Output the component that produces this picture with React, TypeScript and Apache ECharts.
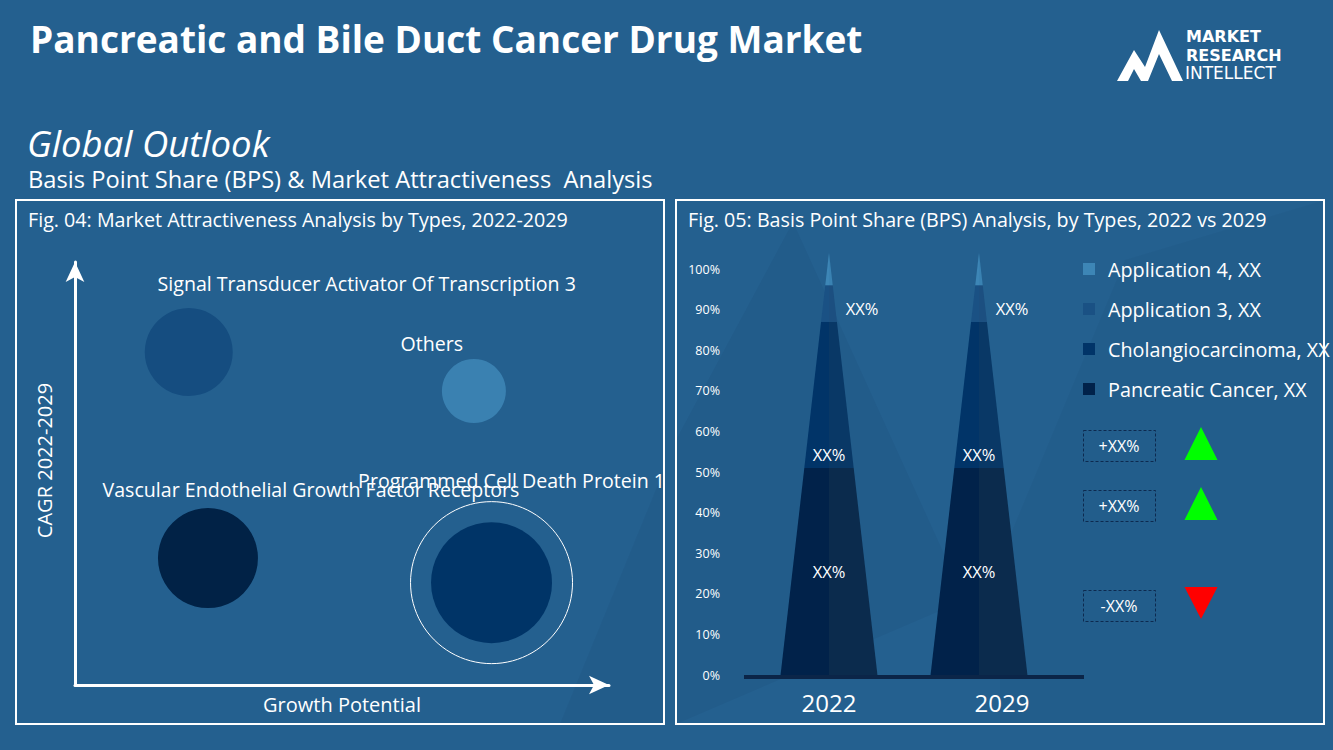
import React, { useEffect, useRef } from "react";
import * as echarts from "echarts";

// ---------- Text ----------
const TITLE = "Pancreatic and Bile Duct Cancer Drug Market";
const SUBTITLE = "Global Outlook";
const SUBTITLE2 = "Basis Point Share (BPS) & Market Attractiveness  Analysis";
const FIG4_TITLE = "Fig. 04: Market Attractiveness Analysis by Types, 2022-2029";
const FIG5_TITLE = "Fig. 05: Basis Point Share (BPS) Analysis, by Types, 2022 vs 2029";
const X_NAME = "Growth Potential";
const Y_NAME = "CAGR 2022-2029";

// ---------- Fig. 04 data ----------
const bubbleNames = [
  "Signal Transducer Activator Of Transcription 3",
  "Others",
  "Vascular Endothelial Growth Factor Receptors",
  "Programmed Cell Death Protein 1",
];
const growthPotential = [21.3, 74.7, 24.9, 78.0];
const cagr = [78.7, 69.5, 30.0, 24.2];
const bubbleSize = [88, 64, 100, 121];
const bubbleColors = ["#154d80", "#3a81b1", "#012246", "#003467"];
const highlightedIndex = 3;

// ---------- Fig. 05 data ----------
const years = ["2022", "2029"];
const segmentNames = [
  "Pancreatic Cancer, XX",
  "Cholangiocarcinoma, XX",
  "Application 3, XX",
  "Application 4, XX",
];
const share2022 = [51, 36, 9, 8];
const share2029 = [51, 36, 9, 8];
const segmentLabels = ["XX%", "XX%", "XX%", ""];
const segmentColors = ["#01224a", "#013468", "#1a5184", "#3d86b6"];
const segmentShades = ["#0b2b4d", "#093866", "#1c4f80", "#3a82b2"];
const changeLabels = ["+XX%", "+XX%", "-XX%"];
const changeUp = [true, true, false];

const FONT = "Open Sans";

export default function App() {
  const ref = useRef<HTMLDivElement>(null);

  useEffect(() => {
    if (!ref.current) return;
    const chart = echarts.init(ref.current, undefined, { renderer: "svg" });

    const labelOffsets = [
      [178, -69],
      [-42, -48],
      [103, -69],
      [20, -102],
    ];

    const scatterData = bubbleNames.map((name, i) => ({
      name,
      value: [growthPotential[i], cagr[i], bubbleSize[i]],
      itemStyle: { color: bubbleColors[i], opacity: 1 },
      label: { offset: labelOffsets[i] },
    }));

    const shares = [share2022, share2029];
    const customSeries = segmentNames.map((name, s) => ({
      type: "custom",
      name,
      xAxisIndex: 1,
      yAxisIndex: 1,
      itemStyle: { color: segmentColors[s] },
      clip: false,
      data: years.map((_, ci) => {
        const arr = shares[ci];
        let lo = 0;
        for (let k = 0; k < s; k++) lo += arr[k];
        const total = arr.reduce((a, b) => a + b, 0);
        return [ci, lo, lo + arr[s], total];
      }),
      renderItem: (params: any, api: any) => {
        const ci = api.value(0);
        const lo = api.value(1);
        const hi = api.value(2);
        const total = api.value(3);
        const cx = api.coord([ci, 0])[0];
        const band = api.size([1, 0])[0];
        const halfBase = band * 0.323;
        const yAt = (v: number) => api.coord([ci, v])[1];
        const w = (v: number) => halfBase * (1 - v / total);
        const ylo = yAt(lo);
        const yhi = yAt(hi);
        const children: any[] = [
          {
            type: "polygon",
            shape: { points: [[cx - w(lo), ylo], [cx, ylo], [cx, yhi], [cx - w(hi), yhi]] },
            style: { fill: segmentColors[s] },
          },
          {
            type: "polygon",
            shape: { points: [[cx, ylo], [cx + w(lo), ylo], [cx + w(hi), yhi], [cx, yhi]] },
            style: { fill: segmentShades[s] },
          },
        ];
        const txt = segmentLabels[s];
        if (txt) {
          let tx = cx;
          let ty = (ylo + yhi) / 2;
          if (s === 1) ty = ylo - 13;
          if (s === 2) {
            tx = cx + 33;
            ty = (ylo + yhi) / 2 + 5;
          }
          children.push({
            type: "text",
            style: {
              text: txt,
              x: tx,
              y: ty,
              fill: "#ffffff",
              fontSize: 16.5,
              fontFamily: FONT,
              align: "center",
              verticalAlign: "middle",
            },
          });
        }
        return { type: "group", children };
      },
    }));

    const white = "#ffffff";
    const graphics: any[] = [
      // faint background shapes
      {
        type: "polygon",
        z: -10,
        shape: { points: [[676, 440], [793, 222], [965, 600], [676, 724]] },
        style: { fill: "rgba(10,30,60,0.06)" },
      },
      {
        type: "polygon",
        z: -10,
        shape: { points: [[1000, 560], [1125, 260], [1325, 200], [1325, 724], [1000, 724]] },
        style: { fill: "rgba(10,30,60,0.035)" },
      },
      {
        type: "polygon",
        z: -10,
        shape: { points: [[560, 724], [664, 470], [664, 724]] },
        style: { fill: "rgba(10,30,60,0.06)" },
      },
      // title
      {
        type: "text",
        x: 30,
        y: 38,
        style: {
          text: TITLE,
          fill: white,
          fontSize: 37,
          fontWeight: "bold",
          fontFamily: FONT,
          verticalAlign: "middle",
        },
      },
      // logo
      {
        type: "polygon",
        shape: {
          points: [
            [1117, 81], [1134, 50], [1145, 67], [1159, 30], [1183, 81], [1172, 81],
            [1159, 54], [1148, 81], [1141, 81], [1134, 69], [1128, 81],
          ],
        },
        style: { fill: white },
      },
      {
        type: "text",
        x: 1186,
        y: 36,
        style: { text: "MARKET", fill: white, fontSize: 16, fontWeight: "bold", fontFamily: "DejaVu Sans", verticalAlign: "middle" },
      },
      {
        type: "text",
        x: 1186,
        y: 55,
        style: { text: "RESEARCH", fill: white, fontSize: 16, fontWeight: "bold", fontFamily: "DejaVu Sans", verticalAlign: "middle" },
      },
      {
        type: "text",
        x: 1185,
        y: 73,
        style: { text: "INTELLECT", fill: white, fontSize: 17, fontFamily: "DejaVu Sans", verticalAlign: "middle" },
      },
      // subtitles
      {
        type: "text",
        x: 27,
        y: 143,
        style: { text: SUBTITLE, fill: white, fontSize: 36.5, fontStyle: "italic", fontFamily: FONT, verticalAlign: "middle" },
      },
      {
        type: "text",
        x: 28,
        y: 179,
        style: { text: SUBTITLE2, fill: white, fontSize: 23.7, fontFamily: FONT, verticalAlign: "middle" },
      },
      // panels
      {
        type: "rect",
        shape: { x: 16, y: 200, width: 648, height: 524 },
        style: { fill: "none", stroke: white, lineWidth: 2 },
      },
      {
        type: "rect",
        shape: { x: 676, y: 200, width: 648, height: 524 },
        style: { fill: "none", stroke: white, lineWidth: 2 },
      },
      {
        type: "text",
        x: 28,
        y: 219,
        style: { text: FIG4_TITLE, fill: white, fontSize: 19.7, fontFamily: FONT, verticalAlign: "middle" },
      },
      {
        type: "text",
        x: 688,
        y: 219,
        style: { text: FIG5_TITLE, fill: white, fontSize: 19.7, fontFamily: FONT, verticalAlign: "middle" },
      },
      // baseline of fig 05
      {
        type: "rect",
        z: 10,
        shape: { x: 744, y: 675, width: 340, height: 4 },
        style: { fill: "#0b2548" },
      },
    ];

    const boxTops = [430, 490, 590];
    changeLabels.forEach((t, i) => {
      const top = boxTops[i];
      graphics.push({
        type: "rect",
        shape: { x: 1083.5, y: top + 0.5, width: 72, height: 31 },
        style: { fill: "none", stroke: "#0d2a4f", lineWidth: 1, lineDash: [3, 2] },
      });
      graphics.push({
        type: "text",
        x: 1119,
        y: top + 16,
        style: { text: t, fill: white, fontSize: 16, fontFamily: FONT, align: "center", verticalAlign: "middle" },
      });
      const cx = 1201;
      const pts = changeUp[i]
        ? [[cx, top - 3], [cx + 16.5, top + 30], [cx - 16.5, top + 30]]
        : [[cx - 16.5, top - 3], [cx + 16.5, top - 3], [cx, top + 29]];
      graphics.push({
        type: "polygon",
        shape: { points: pts },
        style: { fill: changeUp[i] ? "#00ff00" : "#ff0000" },
      });
    });

    const option: any = {
      animation: false,
      backgroundColor: "#24608f",
      textStyle: { fontFamily: FONT },
      grid: [
        { left: 75, top: 262, width: 534, height: 423 },
        { left: 754, top: 269, width: 300, height: 406 },
      ],
      xAxis: [
        {
          type: "value",
          gridIndex: 0,
          min: 0,
          max: 100,
          name: X_NAME,
          nameLocation: "middle",
          nameGap: 9,
          nameTextStyle: { color: white, fontSize: 20, fontFamily: FONT },
          axisLine: {
            show: true,
            onZero: false,
            symbol: ["none", "arrow"],
            symbolSize: [14, 20],
            lineStyle: { color: white, width: 3 },
          },
          axisTick: { show: false },
          axisLabel: { show: false },
          splitLine: { show: false },
        },
        {
          type: "category",
          gridIndex: 1,
          data: years,
          axisLine: { show: false },
          axisTick: { show: false },
          axisLabel: {
            color: white,
            fontSize: 24,
            margin: 15,
            fontFamily: FONT,
            formatter: (v: string, i: number) => (i === 1 ? `{s|${v}}` : v),
            rich: { s: { color: white, fontSize: 24, fontFamily: FONT, padding: [0, 0, 0, 46] } },
          },
          splitLine: { show: false },
        },
      ],
      yAxis: [
        {
          type: "value",
          gridIndex: 0,
          min: 0,
          max: 100,
          name: Y_NAME,
          nameLocation: "middle",
          nameGap: 21,
          nameRotate: 90,
          nameTextStyle: { color: white, fontSize: 20, fontFamily: FONT, padding: [0, 0, 0, 26] },
          axisLine: {
            show: true,
            onZero: false,
            symbol: ["none", "arrow"],
            symbolSize: [14, 20],
            lineStyle: { color: white, width: 3 },
          },
          axisTick: { show: false },
          axisLabel: { show: false },
          splitLine: { show: false },
        },
        {
          type: "value",
          gridIndex: 1,
          min: 0,
          max: 100,
          interval: 10,
          axisLine: { show: false },
          axisTick: { show: false },
          splitLine: { show: false },
          axisLabel: { color: white, fontSize: 12.5, margin: 34, formatter: "{value}%", fontFamily: FONT },
        },
      ],
      legend: {
        orient: "vertical",
        left: 1078,
        top: 253,
        icon: "rect",
        itemWidth: 12,
        itemHeight: 12,
        itemGap: 18,
        selectedMode: false,
        textStyle: { color: white, fontSize: 19.8, lineHeight: 22, fontFamily: FONT, padding: [0, 0, 0, 8] },
        data: [3, 2, 1, 0].map((i) => ({ name: segmentNames[i], itemStyle: { color: segmentColors[i] } })),
      },
      series: [
        {
          type: "scatter",
          name: "bubbles",
          xAxisIndex: 0,
          yAxisIndex: 0,
          symbol: "circle",
          symbolSize: (v: number[]) => v[2],
          data: scatterData,
          itemStyle: { opacity: 1 },
          label: {
            show: true,
            position: "inside",
            formatter: (p: any) => p.name,
            color: white,
            fontSize: 19.6,
            fontFamily: FONT,
          },
          z: 3,
        },
        {
          type: "scatter",
          name: "highlight",
          xAxisIndex: 0,
          yAxisIndex: 0,
          symbol: "circle",
          symbolSize: 162,
          silent: true,
          data: [[growthPotential[highlightedIndex], cagr[highlightedIndex]]],
          itemStyle: { color: "rgba(0,0,0,0)", borderColor: white, borderWidth: 1, opacity: 1 },
          z: 2,
        },
        ...customSeries,
      ],
      graphic: { elements: graphics },
    };

    chart.setOption(option);
    return () => chart.dispose();
  }, []);

  return (
    <div
      ref={ref}
      style={{ position: "absolute", left: 0, top: 0, width: 1333, height: 750 }}
    />
  );
}
